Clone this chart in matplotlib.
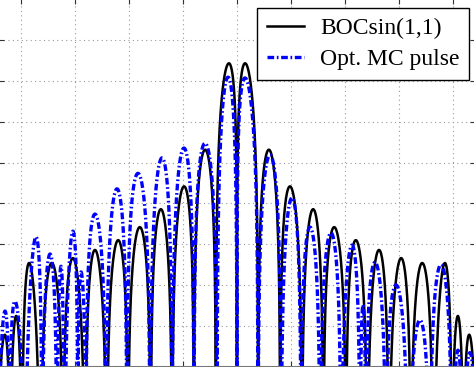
import numpy as np
import matplotlib
matplotlib.use("Agg")
import matplotlib.pyplot as plt

# Frequency in MHz, PSD in dB
# BOCsin(1,1): right half only, the spectrum is symmetric
boc_nulls = [0.0, 1.95, 4.0, 6.0, 8.0, 10.1, 12.05, 14.05, 16.1, 18.15, 19.9, 21.0, 22.2]
boc_peak_f = [0.75, 2.95, 4.9, 7.05, 9.0, 11.0, 13.15, 15.2, 17.15, 19.25, 20.45, 21.5]
boc_peak_db = [-62.8, -73.4, -77.9, -80.7, -82.9, -84.5, -85.7, -86.7, -87.3, -87.3, -93.8, -96.1]

# Opt. MC pulse, right side
mc_nulls_r = [0.0, 1.94, 4.07, 5.93, 7.69, 9.63, 11.39, 11.94, 13.8, 15.83, 17.87, 19.91, 20.93, 22.2]
mc_peak_f_r = [0.74, 3.06, 5.09, 6.76, 8.7, 10.65, 11.67, 12.78, 14.72, 16.94, 18.89, 20.46, 21.57]
mc_peak_db_r = [-64.6, -74.05, -79.3, -82.9, -83.6, -85.1, -92.4, -87.2, -90.0, -94.3, -87.5, -98.0, -98.3]

# Opt. MC pulse, left side
mc_nulls_l = [0.0, -1.85, -3.98, -6.02, -8.06, -10.19, -12.13, -13.98, -14.72, -16.02, -16.67, -18.06, -19.72, -21.02, -22.2]
mc_peak_f_l = [-0.83, -2.96, -4.91, -6.94, -9.17, -11.11, -13.15, -14.44, -15.19, -16.3, -17.31, -18.61, -20.56, -21.48]
mc_peak_db_l = [-64.5, -72.6, -73.2, -74.4, -76.3, -78.2, -81.3, -88.4, -83.4, -87.7, -86.2, -84.1, -92.0, -93.2]

labels = ["BOCsin(1,1)", "Opt. MC pulse"]


def lobes(nulls, peak_f, peak_db, n=150):
    xs, ys = [], []
    for a, b, p, lvl in zip(nulls[:-1], nulls[1:], peak_f, peak_db):
        lo, hi = min(a, b), max(a, b)
        t = np.linspace(0, 1, n)
        tp = (p - lo) / (hi - lo)
        k = np.log(0.5) / np.log(tp)
        u = t ** k
        s = np.maximum(np.sin(np.pi * u), 1e-6)
        xs.append(lo + t * (hi - lo))
        ys.append(lvl + 20 * np.log10(s))
    x = np.concatenate(xs)
    y = np.concatenate(ys)
    order = np.argsort(x, kind="stable")
    return x[order], np.maximum(y[order], -130)


bx_r, by_r = lobes(boc_nulls, boc_peak_f, boc_peak_db)
bx = np.concatenate([-bx_r[::-1], bx_r])
by = np.concatenate([by_r[::-1], by_r])

mx_r, my_r = lobes(mc_nulls_r, mc_peak_f_r, mc_peak_db_r)
mx_l, my_l = lobes(mc_nulls_l, mc_peak_f_l, mc_peak_db_l)
mx = np.concatenate([mx_l, mx_r])
my = np.concatenate([my_l, my_r])

fig = plt.figure(figsize=(4.74, 3.67), dpi=100)
ax = fig.add_axes([-2 / 474, 0.5 / 367, 478 / 474, 368.5 / 367])

ax.plot(bx, by, color="black", lw=1.8, label=labels[0])
ax.plot(mx, my, color="#0000ff", lw=2.4, linestyle=(0, (2.0, 0.8, 0.5, 0.8)), label=labels[1])

ax.set_xlim(-22.13, 22.13)
ax.set_ylim(-100, -54.79)
ax.set_xticks(np.arange(-20, 21, 5))
ax.set_yticks(np.arange(-95, -55, 5))
ax.tick_params(direction="in", length=4, width=0.8, top=True, right=True,
               labelleft=False, labelbottom=False, colors="#333333")
ax.grid(True, color="#999999", linestyle=(0, (1, 3)), linewidth=0.8)
for side in ["top", "left", "right"]:
    ax.spines[side].set_color("#333333")
ax.spines["bottom"].set_color("#777777")
ax.spines["bottom"].set_linewidth(1.5)

leg = ax.legend(loc="upper right", bbox_to_anchor=(469 / 474, 1 - 8 / 367),
                bbox_transform=fig.transFigure, borderaxespad=0, fancybox=False,
                framealpha=1, edgecolor="black", handlelength=1.55,
                handletextpad=0.7, borderpad=0.4, labelspacing=0.42,
                prop={"family": "Liberation Serif", "size": 17})
leg.get_frame().set_linewidth(1.0)

fig.savefig("out.png", dpi=100)
